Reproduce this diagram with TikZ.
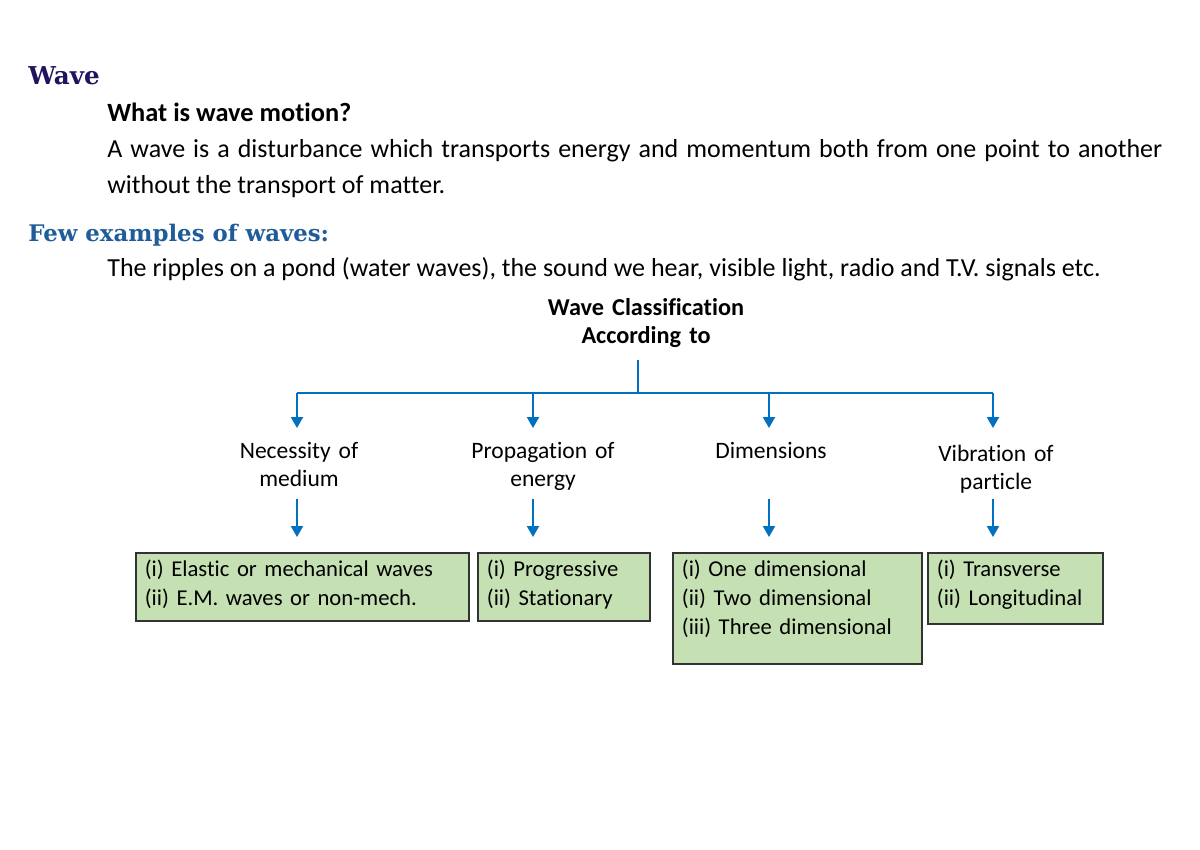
\documentclass[tikz,border=0pt]{standalone}
\usepackage{fontspec}
\setmainfont{Carlito}[Ligatures={NoCommon, NoContextual}]
\newfontfamily\headfont{DejaVu Serif}
\usetikzlibrary{positioning, arrows.meta, calc}
\definecolor{headnavy}{HTML}{22135F}
\definecolor{headblue}{HTML}{1F5C99}
\definecolor{arrblue}{HTML}{0070C0}
\definecolor{boxgreen}{HTML}{C5E0B3}

\begin{document}
\begin{tikzpicture}[
  x=0.2mm, y=-0.2mm,
  textline/.style={anchor=base west, inner sep=0pt, font=\fontsize{14.8}{18}\selectfont},
  heading/.style={anchor=base west, inner sep=0pt, font=\headfont\bfseries\fontsize{13}{15}\selectfont},
  title/.style={anchor=base, inner sep=0pt, text width=60mm, align=center, text depth=9mm, font=\bfseries\fontsize{13.8}{16.4}\selectfont},
  basis/.style={anchor=north, inner sep=0pt, text width=40mm, align=center, text height=6mm, text depth=8mm, font=\fontsize{13.4}{15.9}\selectfont},
  kind/.style={draw=black!80, line width=0.35mm, fill=boxgreen, anchor=north west, align=left, inner ysep=0pt, inner xsep=1.8mm, text height=4.7mm, text depth=8.9mm, font=\fontsize{12.9}{16.5}\selectfont},
  link/.style={draw=arrblue, line width=0.4mm},
  arr/.style={link, -{Triangle[length=2.2mm, width=2.4mm]}},
]
  \path[fill=white, use as bounding box] (0,0) rectangle (1200,849);

  % page text
  \node[heading, text=headnavy, font=\headfont\bfseries\fontsize{14}{15}\selectfont] (wave) at (28,84) {Wave};
  \node[textline, font=\bfseries\fontsize{15}{18}\selectfont] (question) at (107,121) {What is wave motion?};
  \node[textline] (def1) at (107,157) {\makebox[211mm][s]{A wave is a disturbance which transports energy and momentum both from one point to another}};
  \node[textline] (def2) at (107,193) {without the transport of matter.};
  \node[heading, text=headblue] (examples) at (28,241) {Few examples of waves:};
  \node[textline] (ripples) at (107,276) {The ripples on a pond (water waves), the sound we hear, visible light, radio and T.V. signals etc.};

  % classification tree
  \node[title] (title) at (646,315) {Wave Classification\\According to};
  \coordinate (hub) at (638,393);
  \foreach \k/\x in {1/297, 2/533, 3/769, 4/993}
    \coordinate (top\k) at (\x,393);

  \node[basis] (basis1) at (299,428) {Necessity of\\medium};
  \node[basis] (basis2) at (543,428) {Propagation of\\energy};
  \node[basis] (basis3) at (771,428) {Dimensions};
  \node[basis, text height=6.6mm, text depth=7.4mm] (basis4) at (996,428) {Vibration of\\particle};

  \node[kind, text width=63mm] (kind1) at (135,552) {(i) Elastic or mechanical waves\\(ii) E.M. waves or non-mech.};
  \node[kind, text width=30.8mm] (kind2) at (477,552) {(i) Progressive\\(ii) Stationary};
  \node[kind, text width=46.2mm, text depth=17.5mm] (kind3) at (672,552) {(i) One dimensional\\(ii) Two dimensional\\(iii) Three dimensional};
  \node[kind, text width=31.4mm, text depth=9.5mm] (kind4) at (927,552) {(i) Transverse\\(ii) Longitudinal};

  \draw[link] (title.south -| hub) -- (hub);
  \draw[link] (top1) -- (top4);
  \foreach \k in {1,...,4} {
    \draw[arr] (top\k) -- (top\k |- basis\k.north);
    \draw[arr, shorten >=3mm] (top\k |- basis\k.south) -- (top\k |- kind\k.north);
  }
\end{tikzpicture}
\end{document}
